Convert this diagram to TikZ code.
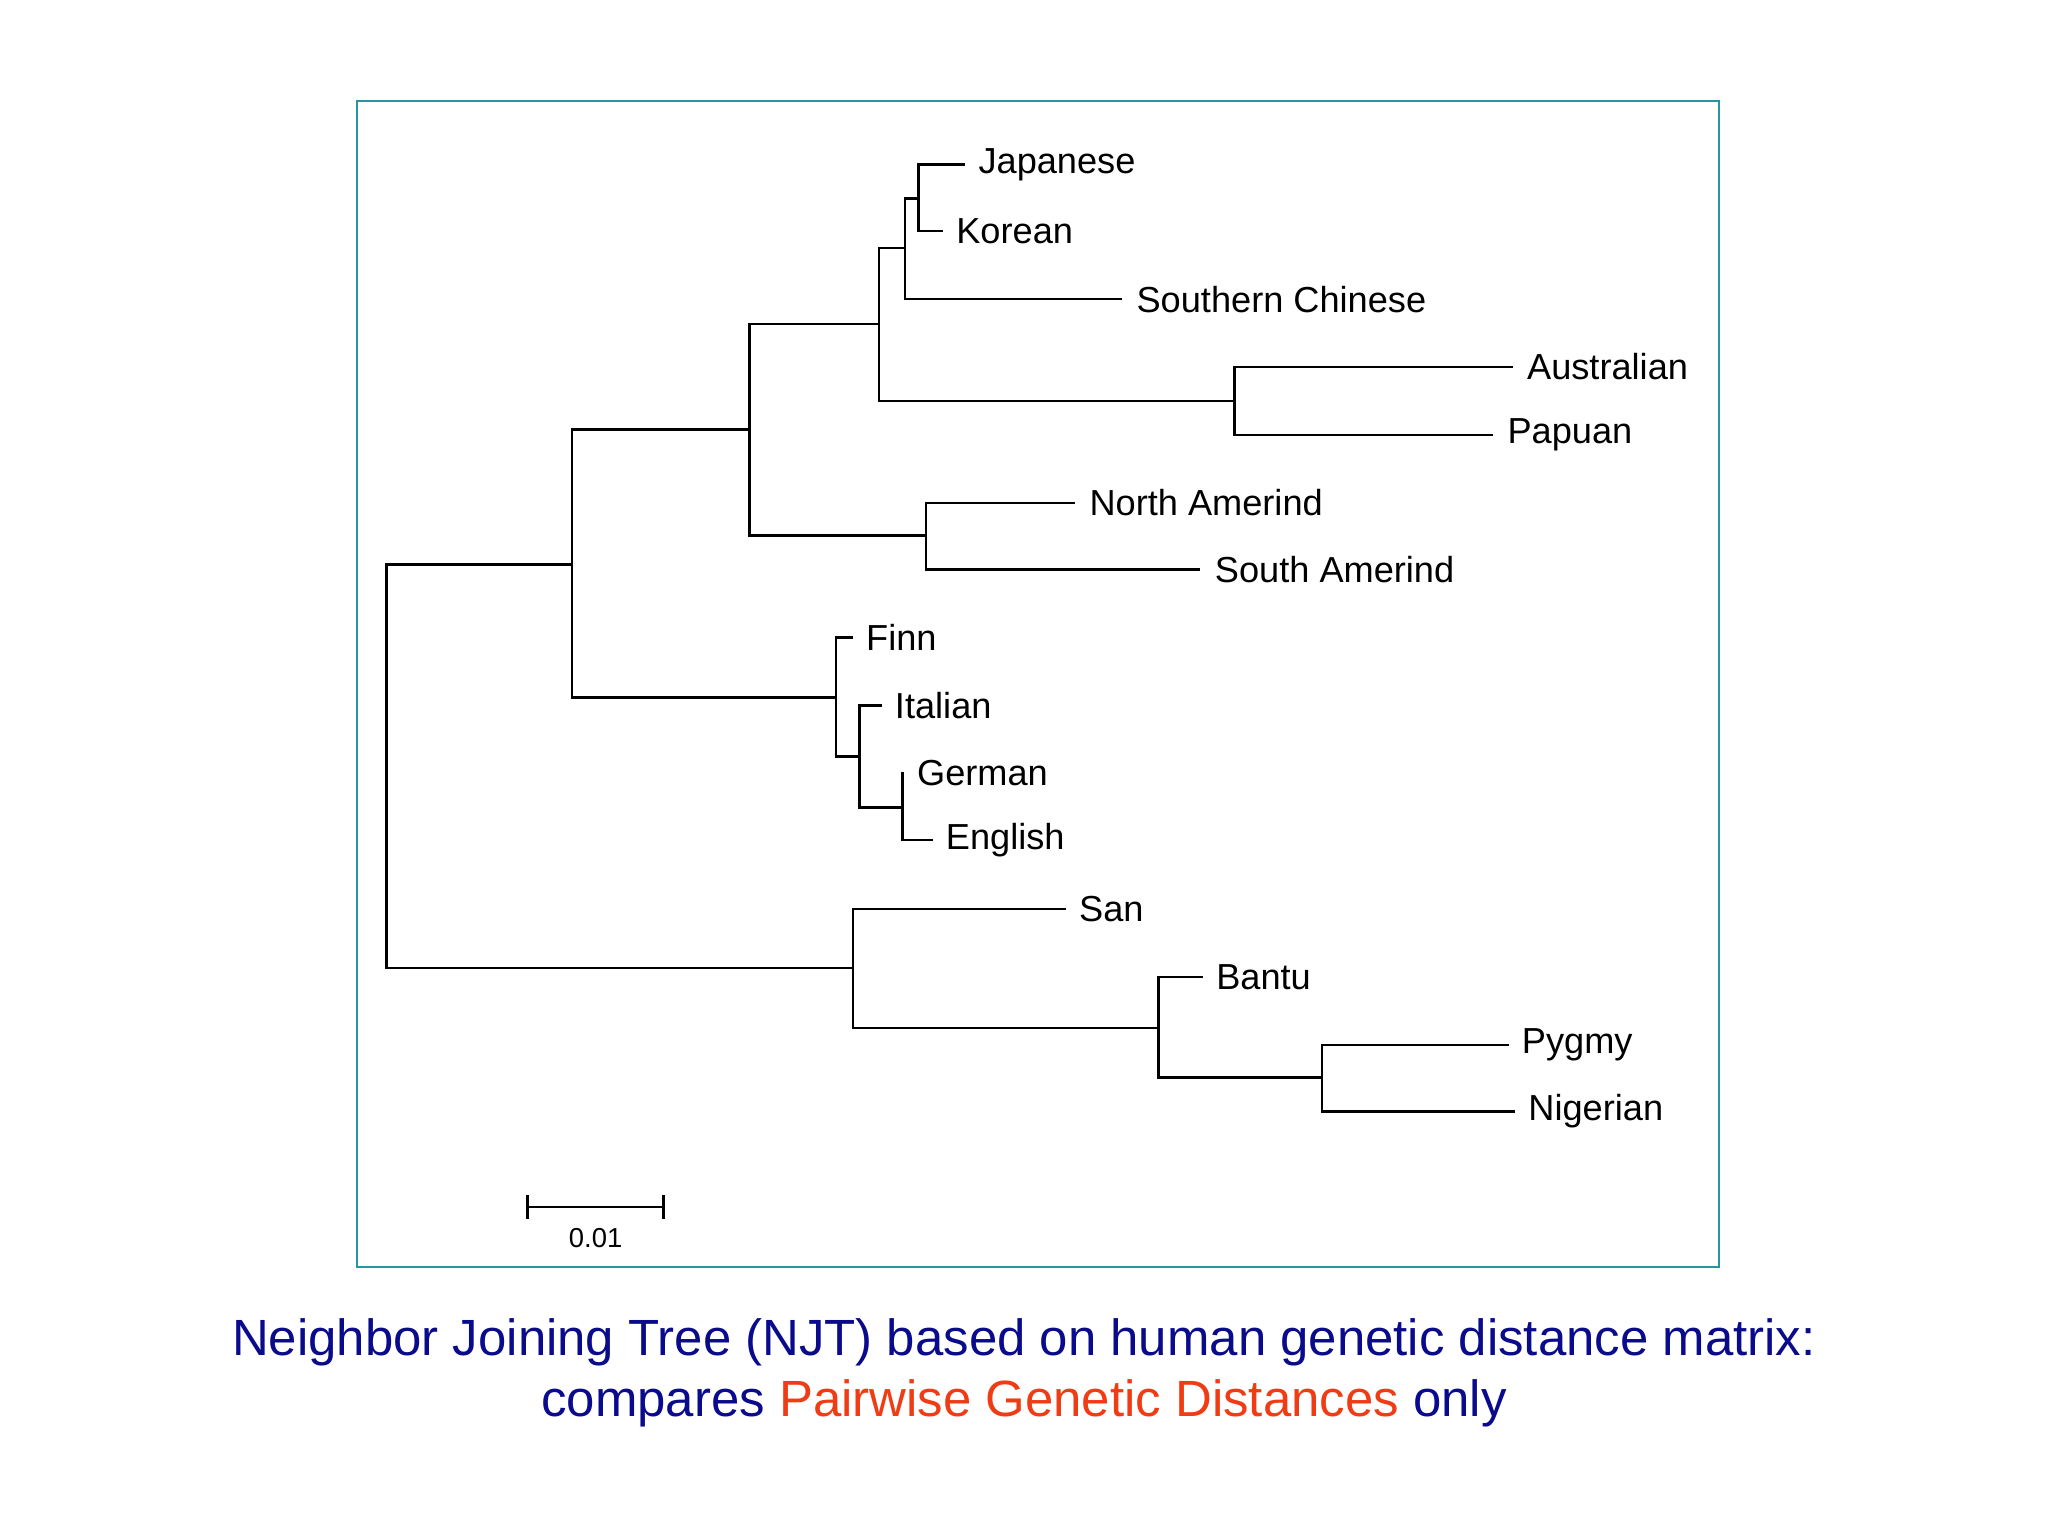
\documentclass[tikz,border=0pt]{standalone}
\usepackage{fontspec}
\setmainfont{Liberation Sans}
\definecolor{frame}{RGB}{40,150,160}
\definecolor{navy}{RGB}{10,10,140}
\definecolor{redo}{RGB}{240,60,20}
\tikzset{br/.style={line width=2pt,line cap=rect},
 lab/.style={anchor=west,inner sep=0pt,font=\fontsize{27.7}{32}\selectfont}}
\begin{document}
\begin{tikzpicture}[x=1pt,y=-1pt]
\useasboundingbox (0,0) rectangle (1568,1176);
\draw[frame,line width=1.5pt] (273,77) rectangle (1316,970);
% tree
\draw[br] (296,432) -- (296,741);
\draw[br] (296,432) -- (438,432); \draw[br] (438,329) -- (438,534);
\draw[br] (438,329) -- (574,329); \draw[br] (574,248) -- (574,410);
\draw[br] (574,248) -- (673,248); \draw[br] (673,190) -- (673,307);
\draw[br] (673,190) -- (693,190); \draw[br] (693,152) -- (693,229);
\draw[br] (693,152) -- (703,152); \draw[br] (703,126) -- (703,177);
\draw[br] (703,126) -- (738,126); \draw[br] (703,177) -- (721,177);
\draw[br] (693,229) -- (858,229);
\draw[br] (673,307) -- (945,307); \draw[br] (945,281) -- (945,333);
\draw[br] (945,281) -- (1157,281); \draw[br] (945,333) -- (1142,333);
\draw[br] (574,410) -- (709,410); \draw[br] (709,385) -- (709,436);
\draw[br] (709,385) -- (822,385); \draw[br] (709,436) -- (918,436);
\draw[br] (438,534) -- (640,534); \draw[br] (640,488) -- (640,579);
\draw[br] (640,488) -- (652,488);
\draw[br] (640,579) -- (658,579); \draw[br] (658,540) -- (658,618);
\draw[br] (658,540) -- (674,540);
\draw[br] (658,618) -- (691,618); \draw[br] (691,592) -- (691,643);
\draw[br] (691,643) -- (713,643);
\draw[br] (296,741) -- (653,741); \draw[br] (653,696) -- (653,787);
\draw[br] (653,696) -- (815,696);
\draw[br] (653,787) -- (887,787); \draw[br] (887,748) -- (887,825);
\draw[br] (887,748) -- (920,748);
\draw[br] (887,825) -- (1012,825); \draw[br] (1012,800) -- (1012,851);
\draw[br] (1012,800) -- (1154,800); \draw[br] (1012,851) -- (1159,851);
% labels
\node[lab] (jap) at (749,126) {Japanese};
\node[lab] (kor) at (732,177) {Korean};
\node[lab] (sch) at (870,229) {Southern Chinese};
\node[lab] (aus) at (1169,281) {Australian};
\node[lab] (pap) at (1154,333) {Papuan};
\node[lab] (nam) at (834,385) {North Amerind};
\node[lab] (sam) at (930,436) {South Amerind};
\node[lab] (fin) at (663,488) {Finn};
\node[lab] (ita) at (685,540) {Italian};
\node[lab] (ger) at (702,592) {German};
\node[lab] (eng) at (724,643) {English};
\node[lab] (san) at (826,696) {San};
\node[lab] (ban) at (931,748) {Bantu};
\node[lab] (pyg) at (1165,800) {Pygmy};
\node[lab] (nig) at (1170,851) {Nigerian};
% scale bar
\draw[line width=2pt] (404,924) -- (508,924);
\draw[line width=2pt] (404,915) -- (404,933); \draw[line width=2pt] (508,915) -- (508,933);
\node[font=\fontsize{21}{24}\selectfont,inner sep=0pt] (sc) at (456,948) {0.01};
% caption
\node[font=\fontsize{39}{47}\selectfont,text=navy,align=center,inner sep=0pt] (cap) at (784,1051)
 {Neighbor Joining Tree (NJT) based on human genetic distance matrix:\\
 compares \textcolor{redo}{Pairwise Genetic Distances} only};
\end{tikzpicture}
\end{document}
